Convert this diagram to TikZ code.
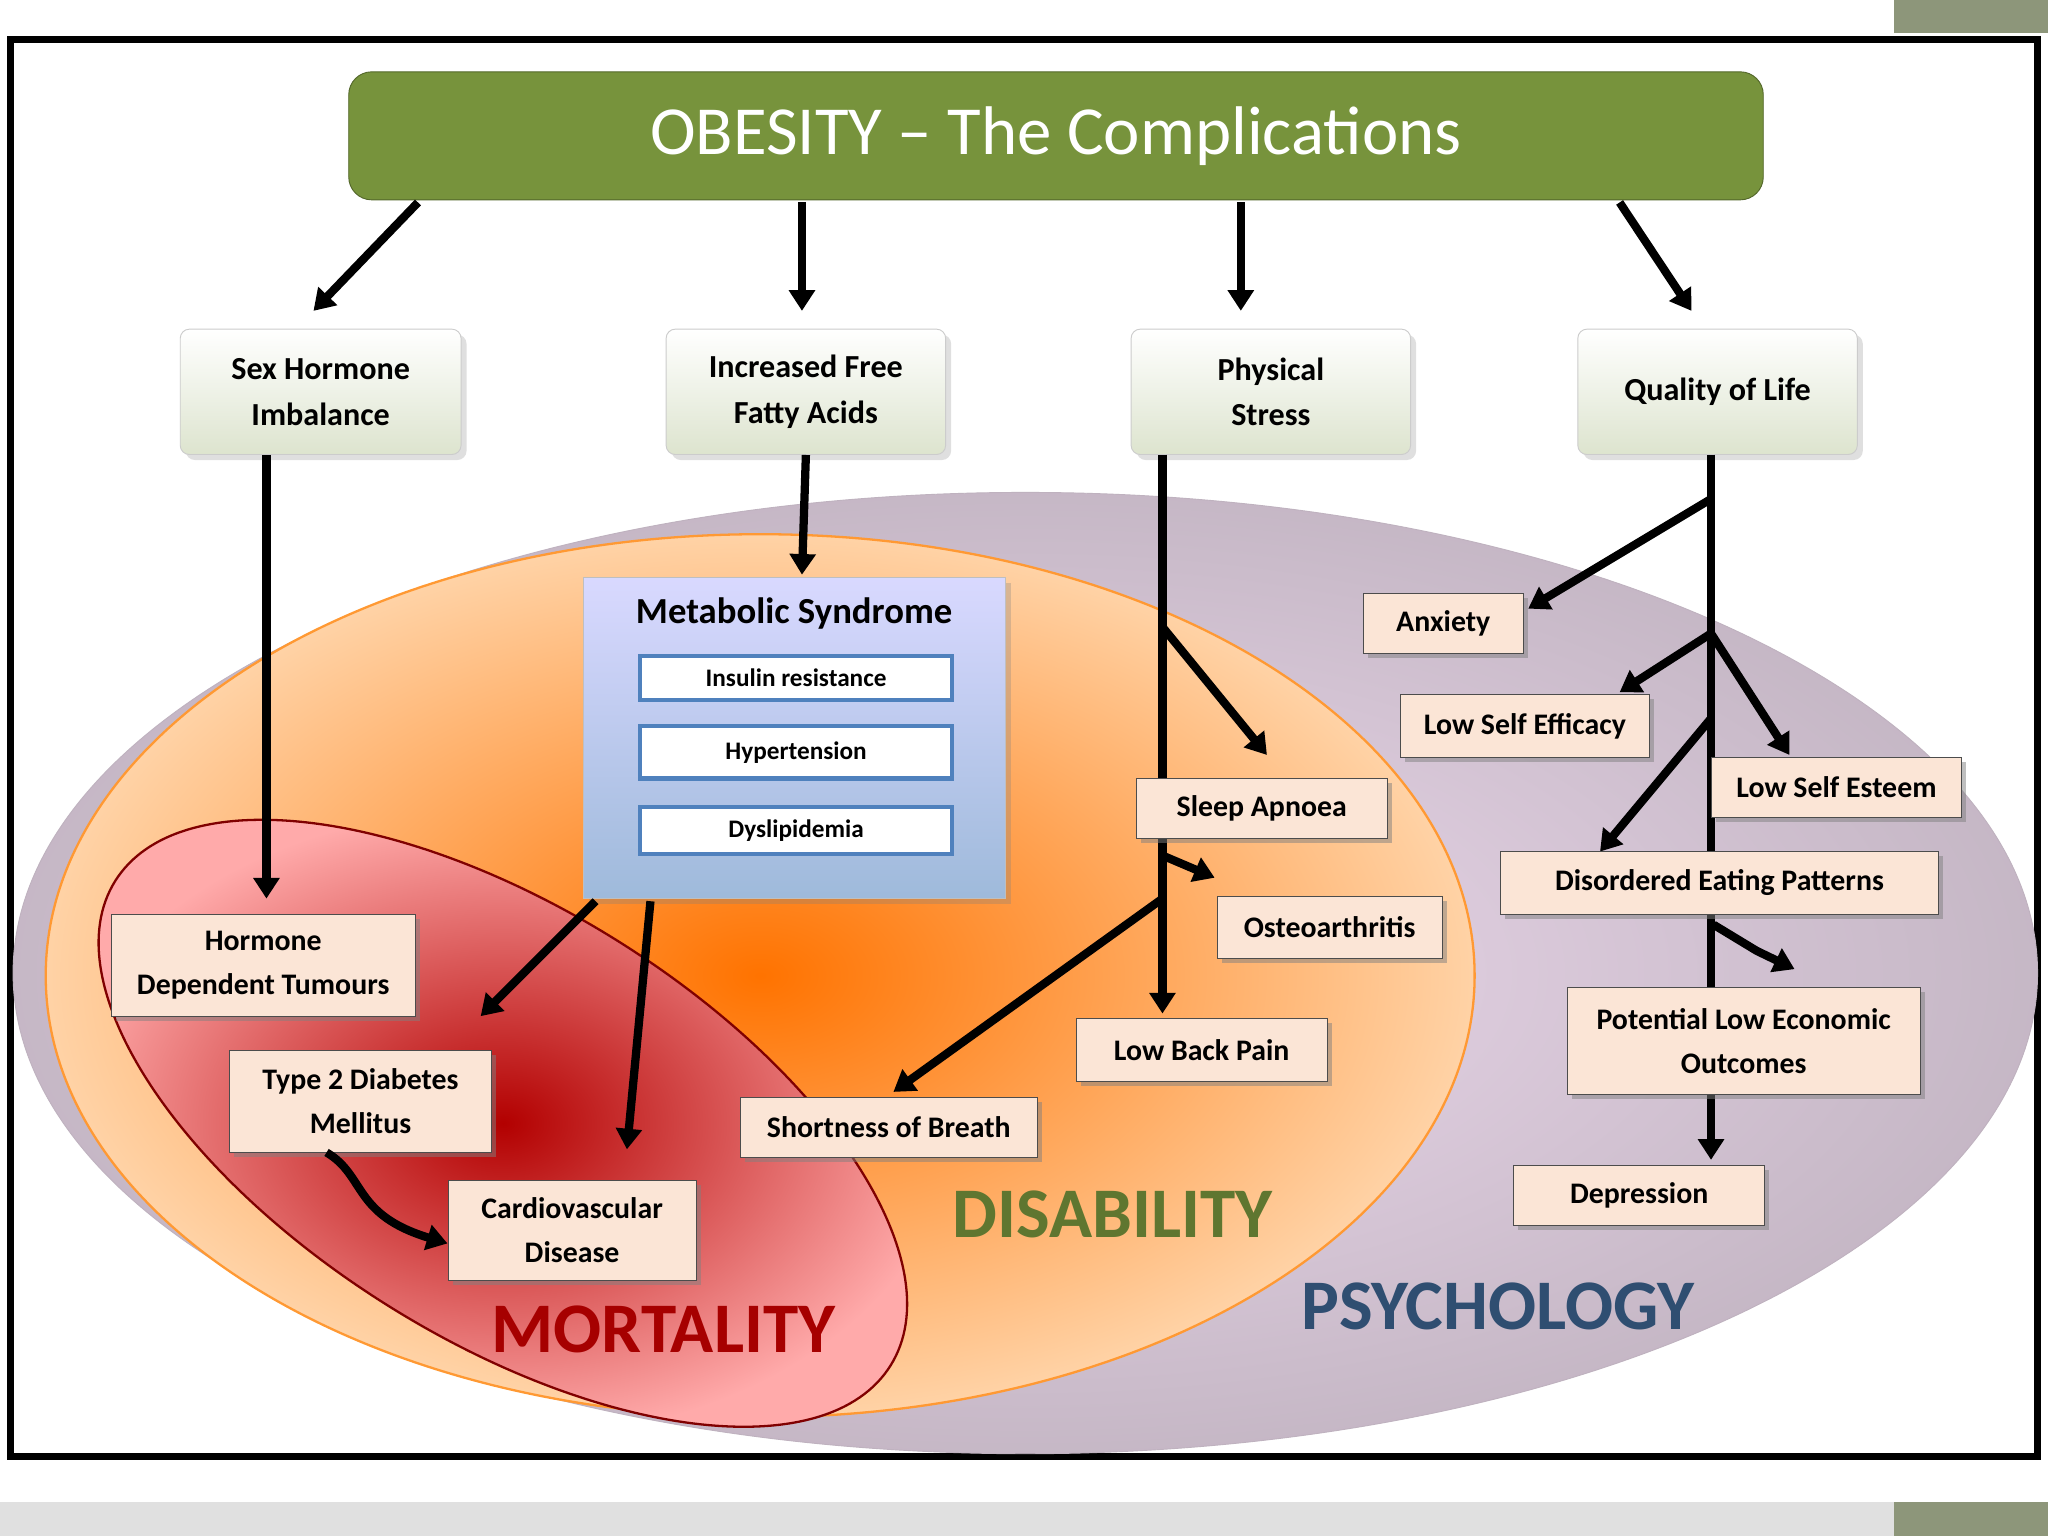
\documentclass[tikz,border=0pt]{standalone}
\usepackage{fontspec}
\setmainfont{Carlito}
\usetikzlibrary{arrows.meta,shadows}
\newcommand\bx[7]{\node[#1, minimum width={(#5-#3)*0.02cm}, minimum height={(#6-#4)*0.02cm}] (#2) at ({(#3+#5)/2},{(#4+#6)/2}) {#7};}
\definecolor{olive}{HTML}{77933C}
\definecolor{beige}{HTML}{FBE5D6}
\definecolor{blueb}{HTML}{4F81BD}
\begin{document}
\begin{tikzpicture}[x=0.02cm,y=-0.02cm,
  lvl/.style={draw=gray!40, rounded corners=4pt, top color=white, bottom color=olive!25, align=center, font=\bfseries\fontsize{14}{20}\selectfont, inner sep=0pt, drop shadow={opacity=0.25}},
  lbl/.style={draw=black!70, fill=beige, align=center, font=\bfseries\fontsize{13}{19}\selectfont, inner sep=0pt, drop shadow={opacity=0.5,shadow xshift=2pt,shadow yshift=-2pt}},
  inb/.style={draw=blueb, line width=1.8pt, fill=white, font=\bfseries\fontsize{11}{13}\selectfont, inner sep=0pt},
  arr/.style={line width=3.6pt, -{Triangle[length=9pt,width=11pt]}},
  big/.style={font=\bfseries\fontsize{31}{36}\selectfont}]
\useasboundingbox (0,0) rectangle (1568,1176);
\fill[white] (0,0) rectangle (1568,1176);
\fill[black!12] (0,1150) rectangle (1450,1176);
\fill[black!45!olive!60] (1450,1150) rectangle (1568,1176);
\fill[black!45!olive!60] (1450,0) rectangle (1568,25);
\draw[line width=3pt] (8,30) rectangle (1560,1115);
% ellipses
\shade[inner color=white!85!violet, outer color=violet!25!gray!45, draw=violet!20!gray!50] (785,745) ellipse [x radius=775, y radius=368];
\shade[inner color=orange!90!red, outer color=orange!35!white, draw=orange!80, line width=1pt] (582,747) ellipse [x radius=547, y radius=338];
\shade[rotate around={-32:(385,860)}, inner color=red!70!black, outer color=red!30!pink!70!white, draw=red!50!black, line width=1pt] (385,860) ellipse [x radius=350, y radius=165];
% title
\bx{draw=olive!70!black, rounded corners=10pt, fill=olive, text=white, font=\fontsize{30}{36}\selectfont, inner sep=0pt}{title}{267}{55}{1350}{153}{OBESITY – The Complications}
\bx{lvl}{sex}{138}{252}{353}{348}{Sex Hormone\\Imbalance}
\bx{lvl}{ffa}{510}{252}{724}{348}{Increased Free\\Fatty Acids}
\bx{lvl}{phy}{866}{252}{1080}{348}{Physical\\Stress}
\bx{lvl}{qol}{1208}{252}{1422}{348}{Quality of Life}
% connectors (drawn below the boxes)
\coordinate (t1) at (320,155); \coordinate (t2) at (614,155);
\coordinate (t3) at (950,155); \coordinate (t4) at (1240,155);
\draw[arr] (t1) -- (240,238);
\draw[arr] (t2) -- (614,238);
\draw[arr] (t3) -- (950,238);
\draw[arr] (t4) -- (1295,238);
\draw[arr] (sex.south -| 204,0) -- (204,688);
\draw[arr] (ffa.south) -- (614,440);
\coordinate (p0) at (890,348); \coordinate (p1) at (890,480);
\coordinate (p2) at (890,655); \coordinate (p3) at (890,688);
\draw[arr] (p0) -- (890,776);
\draw[arr] (p1) -- (970,578);
\draw[arr] (p2) -- (930,672);
\draw[arr] (p3) -- (684,836);
\coordinate (q0) at (1310,348); \coordinate (q1) at (1310,382);
\coordinate (q2) at (1310,485); \coordinate (q3) at (1310,550);
\coordinate (q4) at (1312,708);
\draw[arr] (q0) -- (1310,888);
\draw[arr] (q1) -- (1170,466);
\draw[arr] (q2) -- (1240,530);
\draw[arr] (q2) -- (1370,578);
\draw[arr] (q3) -- (1225,652);
\draw[arr] (q4) -- (1345,728) -- (1374,742);
% metabolic
\bx{draw=gray!50, top color=white!85!blue, bottom color=blueb!55, inner sep=0pt, drop shadow={opacity=0.3}}{met}{447}{442}{770}{688}{}
\node[font=\bfseries\fontsize{16}{18}\selectfont] (mettitle) at (608,470) {Metabolic Syndrome};
\bx{inb}{ins}{490}{502}{729}{536}{Insulin resistance}
\bx{inb}{hyp}{490}{556}{729}{596}{Hypertension}
\bx{inb}{dys}{490}{618}{729}{654}{Dyslipidemia}
\draw[arr] (456,690) -- (368,778);
\draw[arr] (498,690) -- (480,880);
% labels
\bx{lbl}{hdt}{85}{700}{318}{778}{Hormone\\Dependent Tumours}
\bx{lbl}{t2d}{176}{804}{376}{882}{Type 2 Diabetes\\Mellitus}
\bx{lbl}{cvd}{343}{904}{533}{980}{Cardiovascular\\Disease}
\bx{lbl}{sob}{567}{840}{794}{886}{Shortness of Breath}
\bx{lbl}{sla}{870}{596}{1062}{642}{Sleep Apnoea}
\bx{lbl}{ost}{932}{686}{1104}{734}{Osteoarthritis}
\bx{lbl}{lbp}{824}{780}{1016}{828}{Low Back Pain}
\bx{lbl}{anx}{1044}{454}{1166}{500}{Anxiety}
\bx{lbl}{lse}{1072}{532}{1263}{580}{Low Self Efficacy}
\bx{lbl}{lsm}{1310}{580}{1502}{626}{Low Self Esteem}
\bx{lbl}{dep}{1149}{652}{1484}{700}{Disordered Eating Patterns}
\bx{lbl}{ple}{1200}{756}{1470}{838}{Potential Low Economic\\Outcomes}
\bx{lbl}{depr}{1159}{892}{1351}{938}{Depression}
\draw[arr] (t2d.south -| 250,0) .. controls (280,900) and (270,930) .. (cvd.west |- 0,952);
% big labels
\node[big, text=olive!80!black] (dis) at (852,930) {DISABILITY};
\node[big, text=red!65!black] (mor) at (508,1018) {MORTALITY};
\node[big, text=blueb!60!black] (psy) at (1147,1000) {PSYCHOLOGY};
\end{tikzpicture}
\end{document}
